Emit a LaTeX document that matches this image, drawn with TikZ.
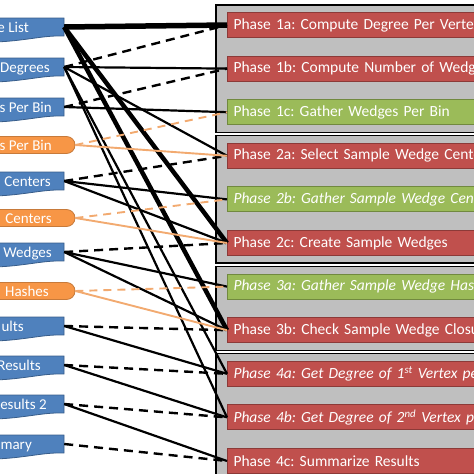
\documentclass[tikz,border=0pt]{standalone}
\usepackage{fontspec}
\setmainfont{Carlito}
\frenchspacing
\usepackage{tikz}
\usetikzlibrary{shapes, positioning, fit, backgrounds}
\definecolor{phasered}{HTML}{C0504D}
\definecolor{redline}{HTML}{8C3A38}
\definecolor{phasegreen}{HTML}{9BBB59}
\definecolor{greenline}{HTML}{71893F}
\definecolor{stagegray}{HTML}{BFBFBF}
\definecolor{docblue}{HTML}{4F81BD}
\definecolor{blueline}{HTML}{385D8A}
\definecolor{storeorange}{HTML}{F79646}
\definecolor{storeline}{HTML}{C77A3A}
\definecolor{linkorange}{HTML}{F2AA70}

\begin{document}
\begin{tikzpicture}[x=1pt, y=-1pt,
    phasebox/.style={rectangle, anchor=west, draw=redline, fill=phasered, line width=1pt, minimum height=25pt, text width=290pt, align=left, inner xsep=6pt, text=white, font=\fontsize{15.5}{18}\selectfont},
    gatherbox/.style={phasebox, draw=greenline, fill=phasegreen},
    stagebox/.style={rectangle, draw=black, fill=stagegray, line width=1.3pt, inner xsep=11pt, inner ysep=7pt},
    docbox/.style={rectangle, minimum width=84pt, minimum height=18pt, inner sep=0pt},
    storebox/.style={rounded rectangle, rounded rectangle left arc=none, draw=storeline, fill=storeorange, line width=0.8pt, minimum width=96pt, minimum height=17pt, inner sep=0pt},
    lbl/.style={anchor=base east, inner sep=0pt, text=white, font=\fontsize{15}{18}\selectfont},
    heavy/.style={line width=5.5pt},
    uses/.style={line width=2.2pt},
    feeds/.style={line width=2.4pt, dash pattern=on 9pt off 6pt},
    ouse/.style={line width=1.9pt, draw=linkorange},
    ofeed/.style={ouse, dash pattern=on 8pt off 6pt}
]
\useasboundingbox (0,0) rectangle (474,474);
\clip (0,0) rectangle (474,474);

\node[phasebox] (p1a) at (227,25) {Phase 1a: Compute Degree Per Vertex};
\node[phasebox, below=17.6pt of p1a] (p1b) {Phase 1b: Compute Number of Wedges};
\node[gatherbox, below=17.6pt of p1b] (p1c) {Phase 1c: Gather Wedges Per Bin};
\node[phasebox, below=17.6pt of p1c] (p2a) {Phase 2a: Select Sample Wedge Centers};
\node[gatherbox, below=17.6pt of p2a] (p2b) {\itshape Phase 2b: Gather Sample Wedge Centers};
\node[phasebox, below=17.6pt of p2b] (p2c) {Phase 2c: Create Sample Wedges};
\node[gatherbox, below=17.6pt of p2c] (p3a) {\itshape Phase 3a: Gather Sample Wedge Hashes};
\node[phasebox, below=17.6pt of p3a] (p3b) {Phase 3b: Check Sample Wedge Closure};
\node[phasebox, below=17.6pt of p3b] (p4a) {\itshape Phase 4a: Get Degree of 1\textsuperscript{st} Vertex per};
\node[phasebox, below=17.6pt of p4a] (p4b) {\itshape Phase 4b: Get Degree of 2\textsuperscript{nd} Vertex per};
\node[phasebox, below=17.6pt of p4b] (p4c) {Phase 4c: Summarize Results};

\begin{scope}[on background layer]
\node[stagebox, fit=(p1a)(p1c)] (s1) {};
\node[stagebox, fit=(p2a)(p2c)] (s2) {};
\node[stagebox, fit=(p3a)(p3b)] (s3) {};
\node[stagebox, fit=(p4a)(p4c)] (s4) {};
\end{scope}

\foreach \nm/\y/\tx/\txt in {edges/27/29/e List, degs/67/50/Degrees, bins/107/52/s Per Bin, cents/181/51/Centers, wedges/252/52/Wedges, res/326/24/ults, res1/365/41/Results, res2/404/47/esults 2, summ/444/32/mary} {
  \filldraw[fill=docblue, draw=blueline, line width=0.8pt] (-20,\y-9) -- (64,\y-9) -- (64,\y+9) .. controls (40,\y+8) and (20,\y+16) .. (-20,\y+15) -- cycle;
  \node[docbox] (\nm) at (22,\y) {};
  \node[lbl] at (\tx,\y+5) {\txt};
}
\foreach \nm/\y/\tx/\txt in {obins/145/52/s Per Bin, ocents/218/52/Centers, hashes/291/49/Hashes} {
  \node[storebox] (\nm) at (27,\y) {};
  \node[lbl] at (\tx,\y+5) {\txt};
}

\draw[heavy] (edges.east) -- (p1a.west);
\draw[heavy, line width=4.5pt] (edges.east) -- (p2c.west);
\draw[heavy, line width=4.5pt] (edges.east) -- (p3b.west);
\foreach \a/\b in {degs/p1b, degs/p2a, degs/p4a, degs/p4b, bins/p1c, cents/p2b, cents/p2c, wedges/p3a, wedges/p3b, res/p4a, res1/p4b, res2/p4c}
  \draw[uses] (\a.east) -- (\b.west);
\foreach \a/\b in {degs/p1a, bins/p1b, cents/p2a, wedges/p2c, res/p3b, res1/p4a, res2/p4b, summ/p4c}
  \draw[feeds] (\a.east) -- (\b.west);
\foreach \a/\b in {obins/p2a, ocents/p2c, hashes/p3b}
  \draw[ouse] (\a.east) -- (\b.west);
\foreach \a/\b in {obins/p1c, ocents/p2b, hashes/p3a}
  \draw[ofeed] (\a.east) -- (\b.west);
\end{tikzpicture}
\end{document}
